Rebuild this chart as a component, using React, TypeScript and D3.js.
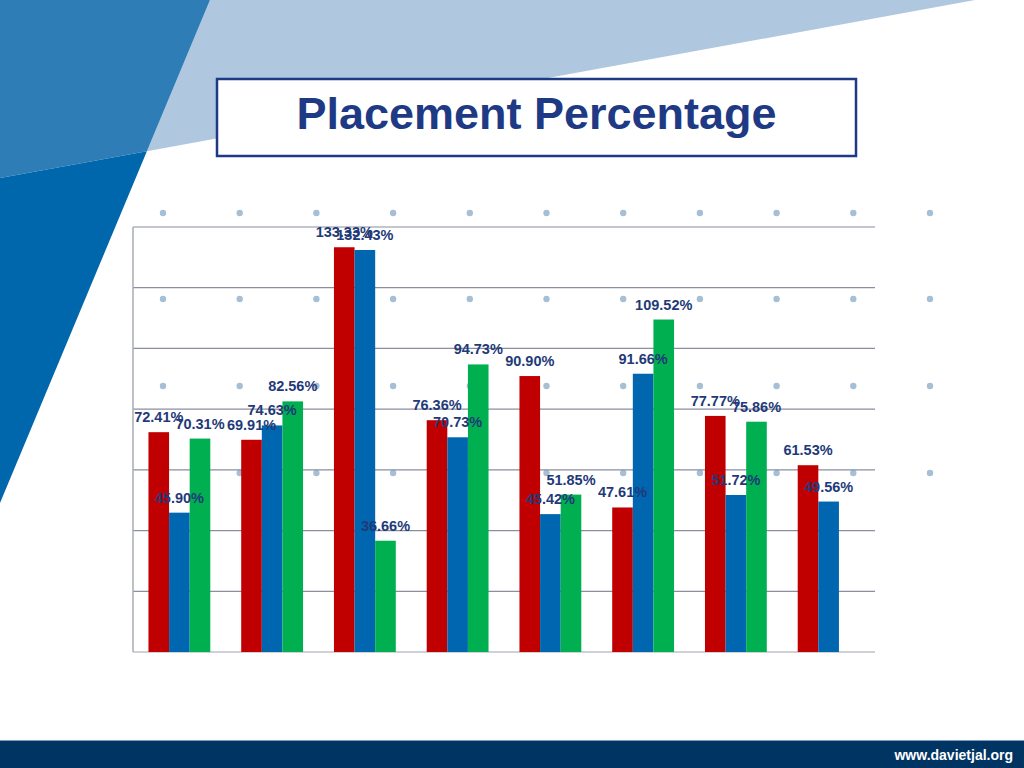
import React from "react";
import * as d3 from "d3";

const categories = ["Batch 1", "Batch 2", "Batch 3", "Batch 4", "Batch 5", "Batch 6", "Batch 7", "Batch 8"];
const seriesNames = ["Series 1", "Series 2", "Series 3"];
const seriesColors = ["#C00000", "#0066B0", "#00B050"];
const series1 = [72.41, 69.91, 133.33, 76.36, 90.9, 47.61, 77.77, 61.53];
const series2 = [45.9, 74.63, 132.43, 70.73, 45.42, 91.66, 51.72, 49.56];
const series3: (number | null)[] = [70.31, 82.56, 36.66, 94.73, 51.85, 109.52, 75.86, null];
const yTicks = [0, 20, 40, 60, 80, 100, 120, 140];
const title = "Placement Percentage";
const footer = "www.davietjal.org";

export default function App() {
  const W = 1024, H = 768;
  const plot = { left: 133, right: 875, top: 227, bottom: 652 };
  const y = d3.scaleLinear().domain([0, 140]).range([plot.bottom, plot.top]);
  const x0 = d3.scaleBand<string>().domain(categories).range([plot.left, plot.right]).padding(0);
  const x1 = d3.scaleBand<string>().domain(seriesNames).range([0, x0.bandwidth()]).paddingInner(0).paddingOuter(0.75);
  const allSeries = [series1, series2, series3];

  const dotsX = d3.range(11).map((i) => 163 + i * 76.7);
  const dotsY = [213, 299, 386, 473];

  const labelColor = "#1F3A78";
  const ix = 146.9, iy = 151.2;

  return (
    <svg width={W} height={H} style={{ position: "fixed", left: 0, top: 0 }} fontFamily="'Liberation Sans', Arial, sans-serif">
      <rect x={0} y={0} width={W} height={H} fill="#ffffff" />
      {/* background shapes */}
      <polygon points={`210,0 975,0 ${ix},${iy}`} fill="#AFC8DF" />
      <polygon points={`0,0 210,0 ${ix},${iy} 0,178`} fill="#2E7DB7" />
      <polygon points={`0,178 ${ix},${iy} 0,503`} fill="#0067AD" />
      {/* dots */}
      {dotsY.map((dy) =>
        dotsX.map((dx) => <circle key={`${dx}-${dy}`} cx={dx} cy={dy} r={3.2} fill="#A6BFD4" />)
      )}
      {/* title box */}
      <rect x={217} y={79} width={639} height={77} fill="#ffffff" stroke="#1F3A85" strokeWidth={2.5} />
      <text x={536.5} y={129} textAnchor="middle" fontSize={45} fontWeight="bold" fill="#1F3A85">
        {title}
      </text>
      {/* grid */}
      {yTicks.map((t) => (
        <line key={t} x1={plot.left} x2={plot.right} y1={y(t)} y2={y(t)} stroke={t === 0 ? "#A0A3AE" : "#8A8EA0"} strokeWidth={1.2} />
      ))}
      <line x1={plot.left} x2={plot.left} y1={plot.top} y2={plot.bottom} stroke="#A9ABB5" strokeWidth={1.5} />
      {/* bars */}
      {categories.map((c, ci) => (
        <g key={c} transform={`translate(${x0(c)},0)`}>
          {allSeries.map((s, si) => {
            const v = s[ci];
            if (v == null) return null;
            return (
              <rect key={si} x={x1(seriesNames[si])} y={y(v)} width={x1.bandwidth()} height={plot.bottom - y(v)} fill={seriesColors[si]} />
            );
          })}
        </g>
      ))}
      {/* labels */}
      {categories.map((c, ci) => (
        <g key={c} transform={`translate(${x0(c)},0)`}>
          {allSeries.map((s, si) => {
            const v = s[ci];
            if (v == null) return null;
            return (
              <text key={si} x={(x1(seriesNames[si]) as number) + x1.bandwidth() / 2} y={y(v) - 10} textAnchor="middle" fontSize={14.5} fontWeight="bold" fill={labelColor}>
                {v.toFixed(2) + "%"}
              </text>
            );
          })}
        </g>
      ))}
      {/* footer */}
      <rect x={0} y={740} width={W} height={28} fill="#003462" />
      <line x1={0} x2={W} y1={740.5} y2={740.5} stroke="#7F9CBC" strokeWidth={1} />
      <text x={1013} y={760} textAnchor="end" fontSize={14} fontWeight="bold" fill="#ffffff">
        {footer}
      </text>
    </svg>
  );
}
